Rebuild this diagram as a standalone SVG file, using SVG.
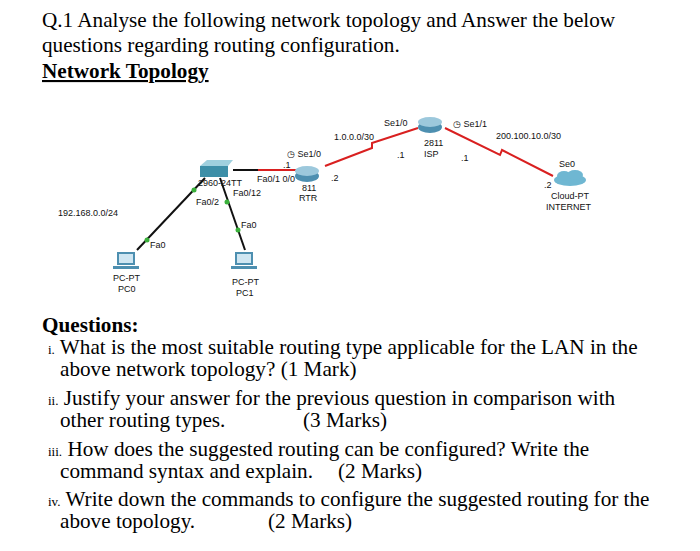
<svg xmlns="http://www.w3.org/2000/svg" width="700" height="551" viewBox="0 0 700 551">
<style>
.t{font-family:"Liberation Serif",serif;font-size:21.2px;fill:#000}
.s{font-family:"Liberation Sans",sans-serif;font-size:9px;fill:#111}
.r{font-family:"Liberation Serif",serif;font-size:13px}
.red{stroke:#d92020;stroke-width:2;fill:none}
.blk{stroke:#111;stroke-width:2;fill:none}
.dot{fill:#3ab03a}
</style>
<rect width="700" height="551" fill="#fff"/>
<text class="t" x="42" y="27">Q.1 Analyse the following network topology and Answer the below</text>
<text class="t" x="42" y="52">questions regarding routing configuration.</text>
<text class="t" x="42" y="78" font-weight="bold" text-decoration="underline">Network Topology</text>

<g id="connectors">
<path class="blk" d="M233 170 L262 170"/>
<path class="red" d="M258 170 L296 170"/>
<path class="red" d="M325 166 L372 148 L372 143 L418 128"/>
<path class="red" d="M445 128 L500 155 L502 150 L553 176"/>
<path class="blk" d="M205 178 L137 250"/>
<path class="blk" d="M220 178 L245 250"/>
<circle class="dot" cx="194" cy="190" r="2.5"/><circle class="dot" cx="147" cy="240" r="2.5"/>
<circle class="dot" cx="227" cy="202" r="2.5"/><circle class="dot" cx="238" cy="230" r="2.5"/>
</g>

<g id="switch">
<path d="M200 166 L207 160 L233 160 L228 166 Z" fill="#9fd0de"/>
<rect x="200" y="166" width="28" height="11" fill="#3d8fa8"/>
<text class="s" x="198" y="186">2960-24TT</text>
<text class="s" x="233" y="196">Fa0/12</text>
<text class="s" x="196" y="205">Fa0/2</text>
</g>
<g id="rtr">
<ellipse cx="307" cy="176" rx="12" ry="6" fill="#4d8fb0"/>
<ellipse cx="307" cy="171" rx="12" ry="5" fill="#9cc8dc"/>
<text class="s" x="287" y="157">◷ Se1/0</text>
<text class="s" x="283" y="168">.1</text>
<text class="s" x="257" y="182">Fa0/1 0/0</text>
<text class="s" x="331" y="181">.2</text>
<text class="s" x="302" y="191">811</text>
<text class="s" x="299" y="201">RTR</text>
</g>
<g id="isp">
<ellipse cx="430" cy="127" rx="12" ry="6" fill="#4d8fb0"/>
<ellipse cx="430" cy="122" rx="12" ry="5" fill="#9cc8dc"/>
<text class="s" x="384" y="126">Se1/0</text>
<text class="s" x="453" y="127">◷ Se1/1</text>
<text class="s" x="334" y="140">1.0.0.0/30</text>
<text class="s" x="496" y="139">200.100.10.0/30</text>
<text class="s" x="424" y="146">2811</text>
<text class="s" x="424" y="157">ISP</text>
<text class="s" x="397" y="158">.1</text>
<text class="s" x="461" y="161">.1</text>
</g>
<g id="internet">
<ellipse cx="570" cy="180" rx="16" ry="6" fill="#6fb7d2"/>
<ellipse cx="564" cy="176" rx="7" ry="5" fill="#6fb7d2"/>
<ellipse cx="575" cy="175" rx="8" ry="5" fill="#6fb7d2"/>
<text class="s" x="559" y="167">Se0</text>
<text class="s" x="544" y="188">.2</text>
<text class="s" x="551" y="199">Cloud-PT</text>
<text class="s" x="546" y="210">INTERNET</text>
</g>
<text class="s" x="58" y="216">192.168.0.0/24</text>
<text class="s" x="150" y="248">Fa0</text>
<text class="s" x="241" y="228">Fa0</text>
<g id="pc0">
<rect x="117" y="252" width="18" height="13" fill="#4d8fb0"/><rect x="119" y="254" width="14" height="9" fill="#cfe6f2"/>
<rect x="113" y="266" width="26" height="3" fill="#4d8fb0"/>
<text class="s" x="113" y="281">PC-PT</text><text class="s" x="118" y="292">PC0</text>
</g>
<g id="pc1">
<rect x="235" y="252" width="18" height="13" fill="#4d8fb0"/><rect x="237" y="254" width="14" height="9" fill="#cfe6f2"/>
<rect x="231" y="266" width="26" height="3" fill="#4d8fb0"/>
<text class="s" x="232" y="285">PC-PT</text><text class="s" x="236" y="296">PC1</text>
</g>

<text class="t" x="42" y="332" font-weight="bold">Questions:</text>
<text class="t" x="48" y="354"><tspan class="r">i.</tspan> What is the most suitable routing type applicable for the LAN in the</text>
<text class="t" x="60" y="376">above network topology? (1 Mark)</text>
<text class="t" x="48" y="405"><tspan class="r">ii.</tspan> Justify your answer for the previous question in comparison with</text>
<text class="t" x="60" y="427">other routing types.<tspan x="303">(3 Marks)</tspan></text>
<text class="t" x="48" y="456"><tspan class="r">iii.</tspan> How does the suggested routing can be configured? Write the</text>
<text class="t" x="60" y="478">command syntax and explain.<tspan x="338">(2 Marks)</tspan></text>
<text class="t" x="48" y="506"><tspan class="r">iv.</tspan> Write down the commands to configure the suggested routing for the</text>
<text class="t" x="60" y="528">above topology.<tspan x="268">(2 Marks)</tspan></text>
</svg>
